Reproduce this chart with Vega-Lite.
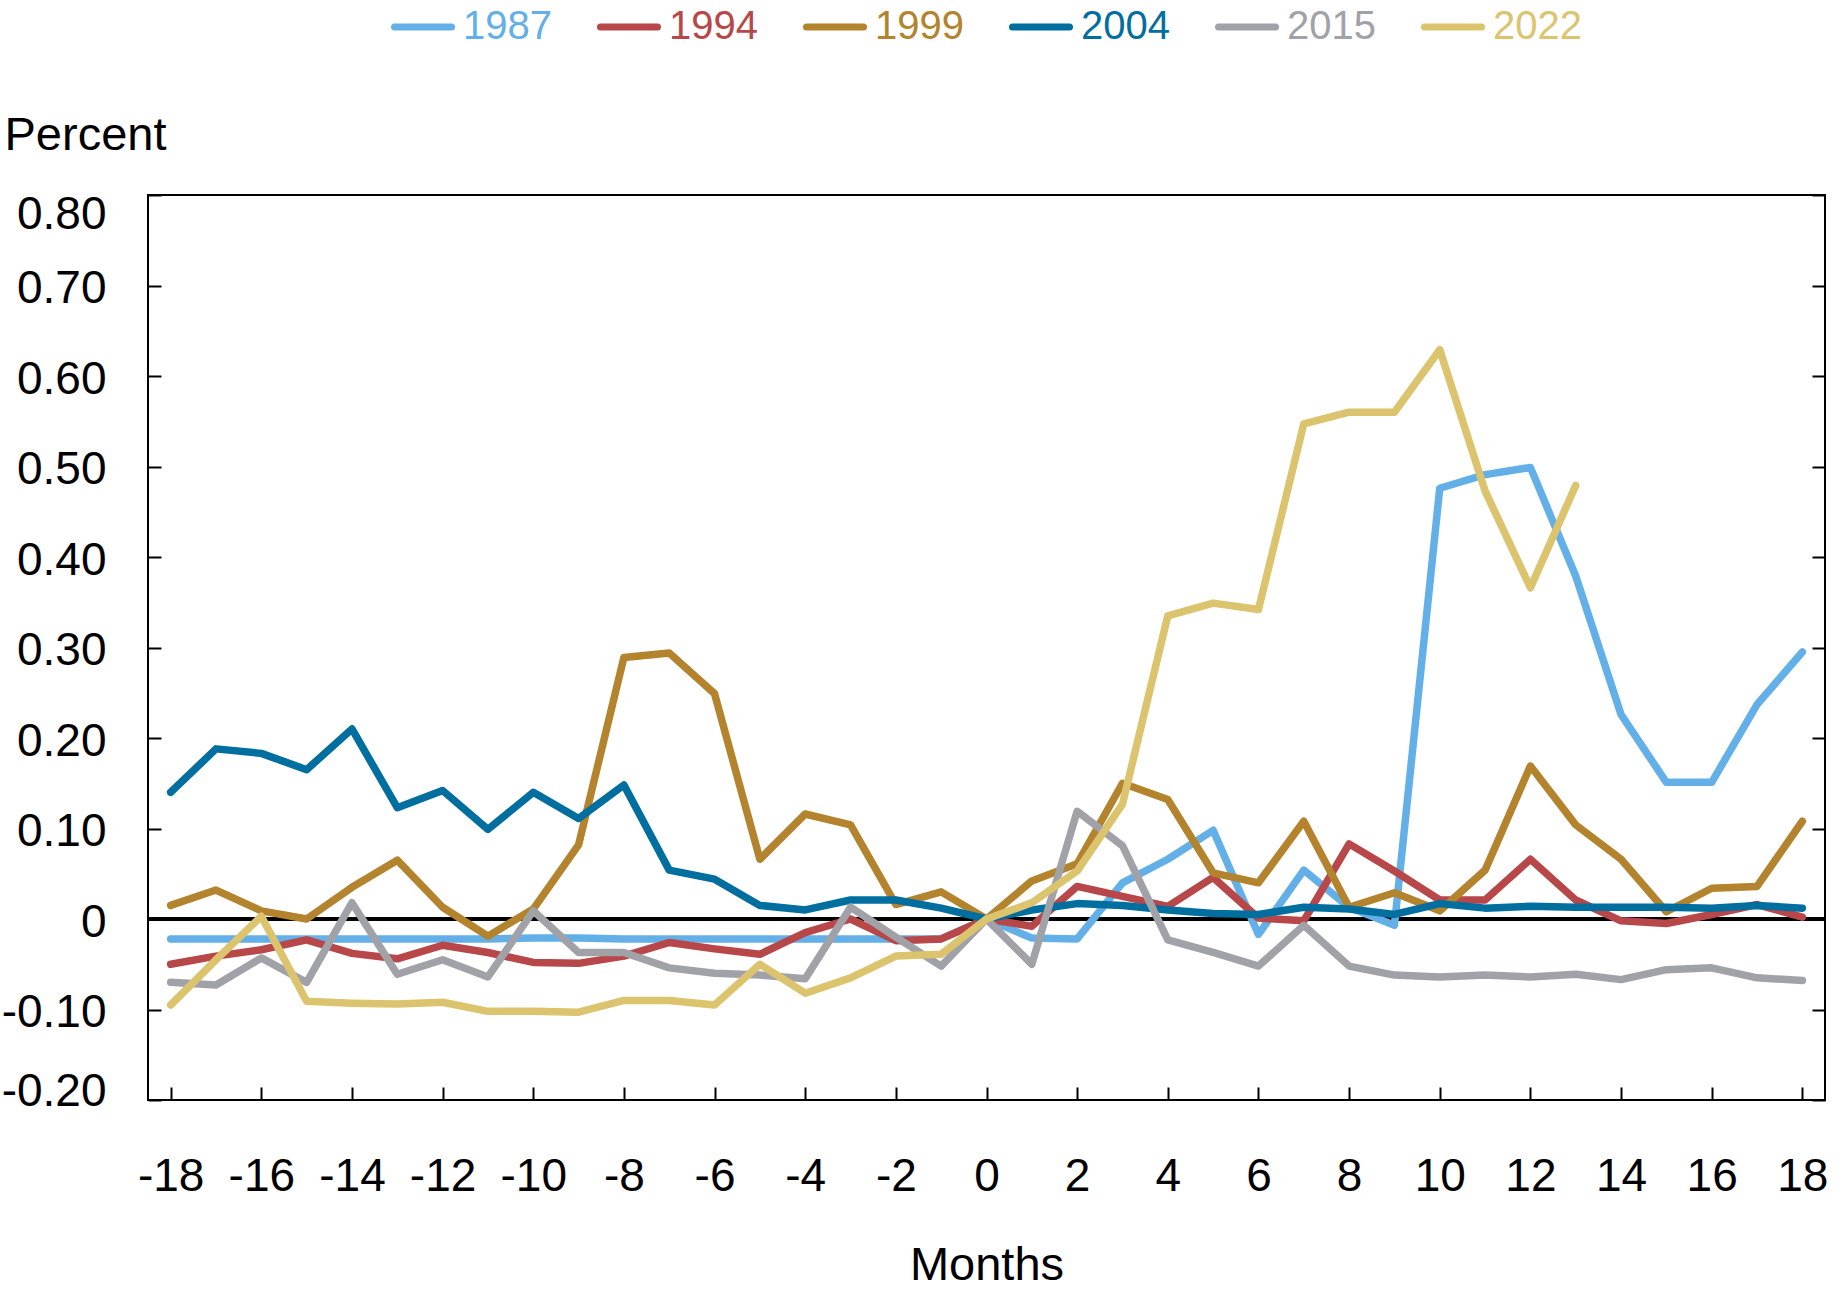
{
  "$schema": "https://vega.github.io/schema/vega-lite/v6.json",
  "width": 1677,
  "height": 905,
  "autosize": "none",
  "padding": {"left": 148, "top": 195, "right": 15, "bottom": 190},
  "background": "white",
  "config": {
    "font": "Liberation Sans",
    "view": {"stroke": "black", "strokeWidth": 2}
  },
  "data": {
    "values": [
      {"m": -18, "s": "1987", "v": -0.022}, {"m": -17, "s": "1987", "v": -0.022}, {"m": -16, "s": "1987", "v": -0.022}, {"m": -15, "s": "1987", "v": -0.022}, {"m": -14, "s": "1987", "v": -0.022}, {"m": -13, "s": "1987", "v": -0.022}, {"m": -12, "s": "1987", "v": -0.022}, {"m": -11, "s": "1987", "v": -0.022}, {"m": -10, "s": "1987", "v": -0.021}, {"m": -9, "s": "1987", "v": -0.021}, {"m": -8, "s": "1987", "v": -0.022}, {"m": -7, "s": "1987", "v": -0.022}, {"m": -6, "s": "1987", "v": -0.022}, {"m": -5, "s": "1987", "v": -0.022}, {"m": -4, "s": "1987", "v": -0.022}, {"m": -3, "s": "1987", "v": -0.022}, {"m": -2, "s": "1987", "v": -0.022}, {"m": -1, "s": "1987", "v": -0.022}, {"m": 0, "s": "1987", "v": 0.0}, {"m": 1, "s": "1987", "v": -0.021}, {"m": 2, "s": "1987", "v": -0.022}, {"m": 3, "s": "1987", "v": 0.040}, {"m": 4, "s": "1987", "v": 0.066}, {"m": 5, "s": "1987", "v": 0.098}, {"m": 6, "s": "1987", "v": -0.017}, {"m": 7, "s": "1987", "v": 0.054}, {"m": 8, "s": "1987", "v": 0.013}, {"m": 9, "s": "1987", "v": -0.007}, {"m": 10, "s": "1987", "v": 0.476}, {"m": 11, "s": "1987", "v": 0.491}, {"m": 12, "s": "1987", "v": 0.499}, {"m": 13, "s": "1987", "v": 0.379}, {"m": 14, "s": "1987", "v": 0.226}, {"m": 15, "s": "1987", "v": 0.151}, {"m": 16, "s": "1987", "v": 0.151}, {"m": 17, "s": "1987", "v": 0.237}, {"m": 18, "s": "1987", "v": 0.295},
      {"m": -18, "s": "1994", "v": -0.050}, {"m": -17, "s": "1994", "v": -0.041}, {"m": -16, "s": "1994", "v": -0.034}, {"m": -15, "s": "1994", "v": -0.023}, {"m": -14, "s": "1994", "v": -0.038}, {"m": -13, "s": "1994", "v": -0.044}, {"m": -12, "s": "1994", "v": -0.029}, {"m": -11, "s": "1994", "v": -0.037}, {"m": -10, "s": "1994", "v": -0.048}, {"m": -9, "s": "1994", "v": -0.049}, {"m": -8, "s": "1994", "v": -0.041}, {"m": -7, "s": "1994", "v": -0.026}, {"m": -6, "s": "1994", "v": -0.033}, {"m": -5, "s": "1994", "v": -0.039}, {"m": -4, "s": "1994", "v": -0.015}, {"m": -3, "s": "1994", "v": 0.000}, {"m": -2, "s": "1994", "v": -0.024}, {"m": -1, "s": "1994", "v": -0.022}, {"m": 0, "s": "1994", "v": 0.0}, {"m": 1, "s": "1994", "v": -0.008}, {"m": 2, "s": "1994", "v": 0.036}, {"m": 3, "s": "1994", "v": 0.025}, {"m": 4, "s": "1994", "v": 0.014}, {"m": 5, "s": "1994", "v": 0.046}, {"m": 6, "s": "1994", "v": 0.001}, {"m": 7, "s": "1994", "v": -0.002}, {"m": 8, "s": "1994", "v": 0.083}, {"m": 9, "s": "1994", "v": 0.053}, {"m": 10, "s": "1994", "v": 0.021}, {"m": 11, "s": "1994", "v": 0.021}, {"m": 12, "s": "1994", "v": 0.066}, {"m": 13, "s": "1994", "v": 0.021}, {"m": 14, "s": "1994", "v": -0.002}, {"m": 15, "s": "1994", "v": -0.005}, {"m": 16, "s": "1994", "v": 0.005}, {"m": 17, "s": "1994", "v": 0.016}, {"m": 18, "s": "1994", "v": 0.002},
      {"m": -18, "s": "1999", "v": 0.015}, {"m": -17, "s": "1999", "v": 0.032}, {"m": -16, "s": "1999", "v": 0.009}, {"m": -15, "s": "1999", "v": 0.000}, {"m": -14, "s": "1999", "v": 0.035}, {"m": -13, "s": "1999", "v": 0.065}, {"m": -12, "s": "1999", "v": 0.013}, {"m": -11, "s": "1999", "v": -0.019}, {"m": -10, "s": "1999", "v": 0.011}, {"m": -9, "s": "1999", "v": 0.082}, {"m": -8, "s": "1999", "v": 0.289}, {"m": -7, "s": "1999", "v": 0.294}, {"m": -6, "s": "1999", "v": 0.249}, {"m": -5, "s": "1999", "v": 0.066}, {"m": -4, "s": "1999", "v": 0.116}, {"m": -3, "s": "1999", "v": 0.104}, {"m": -2, "s": "1999", "v": 0.016}, {"m": -1, "s": "1999", "v": 0.030}, {"m": 0, "s": "1999", "v": 0.0}, {"m": 1, "s": "1999", "v": 0.042}, {"m": 2, "s": "1999", "v": 0.061}, {"m": 3, "s": "1999", "v": 0.150}, {"m": 4, "s": "1999", "v": 0.132}, {"m": 5, "s": "1999", "v": 0.051}, {"m": 6, "s": "1999", "v": 0.040}, {"m": 7, "s": "1999", "v": 0.108}, {"m": 8, "s": "1999", "v": 0.013}, {"m": 9, "s": "1999", "v": 0.029}, {"m": 10, "s": "1999", "v": 0.009}, {"m": 11, "s": "1999", "v": 0.054}, {"m": 12, "s": "1999", "v": 0.169}, {"m": 13, "s": "1999", "v": 0.104}, {"m": 14, "s": "1999", "v": 0.066}, {"m": 15, "s": "1999", "v": 0.008}, {"m": 16, "s": "1999", "v": 0.034}, {"m": 17, "s": "1999", "v": 0.036}, {"m": 18, "s": "1999", "v": 0.108},
      {"m": -18, "s": "2004", "v": 0.140}, {"m": -17, "s": "2004", "v": 0.188}, {"m": -16, "s": "2004", "v": 0.183}, {"m": -15, "s": "2004", "v": 0.165}, {"m": -14, "s": "2004", "v": 0.210}, {"m": -13, "s": "2004", "v": 0.123}, {"m": -12, "s": "2004", "v": 0.142}, {"m": -11, "s": "2004", "v": 0.099}, {"m": -10, "s": "2004", "v": 0.140}, {"m": -9, "s": "2004", "v": 0.111}, {"m": -8, "s": "2004", "v": 0.148}, {"m": -7, "s": "2004", "v": 0.054}, {"m": -6, "s": "2004", "v": 0.044}, {"m": -5, "s": "2004", "v": 0.015}, {"m": -4, "s": "2004", "v": 0.010}, {"m": -3, "s": "2004", "v": 0.021}, {"m": -2, "s": "2004", "v": 0.021}, {"m": -1, "s": "2004", "v": 0.012}, {"m": 0, "s": "2004", "v": 0.0}, {"m": 1, "s": "2004", "v": 0.010}, {"m": 2, "s": "2004", "v": 0.017}, {"m": 3, "s": "2004", "v": 0.015}, {"m": 4, "s": "2004", "v": 0.010}, {"m": 5, "s": "2004", "v": 0.006}, {"m": 6, "s": "2004", "v": 0.005}, {"m": 7, "s": "2004", "v": 0.013}, {"m": 8, "s": "2004", "v": 0.011}, {"m": 9, "s": "2004", "v": 0.005}, {"m": 10, "s": "2004", "v": 0.017}, {"m": 11, "s": "2004", "v": 0.012}, {"m": 12, "s": "2004", "v": 0.014}, {"m": 13, "s": "2004", "v": 0.013}, {"m": 14, "s": "2004", "v": 0.013}, {"m": 15, "s": "2004", "v": 0.013}, {"m": 16, "s": "2004", "v": 0.012}, {"m": 17, "s": "2004", "v": 0.015}, {"m": 18, "s": "2004", "v": 0.012},
      {"m": -18, "s": "2015", "v": -0.070}, {"m": -17, "s": "2015", "v": -0.073}, {"m": -16, "s": "2015", "v": -0.043}, {"m": -15, "s": "2015", "v": -0.070}, {"m": -14, "s": "2015", "v": 0.018}, {"m": -13, "s": "2015", "v": -0.061}, {"m": -12, "s": "2015", "v": -0.045}, {"m": -11, "s": "2015", "v": -0.064}, {"m": -10, "s": "2015", "v": 0.009}, {"m": -9, "s": "2015", "v": -0.037}, {"m": -8, "s": "2015", "v": -0.037}, {"m": -7, "s": "2015", "v": -0.054}, {"m": -6, "s": "2015", "v": -0.060}, {"m": -5, "s": "2015", "v": -0.062}, {"m": -4, "s": "2015", "v": -0.066}, {"m": -3, "s": "2015", "v": 0.013}, {"m": -2, "s": "2015", "v": -0.020}, {"m": -1, "s": "2015", "v": -0.052}, {"m": 0, "s": "2015", "v": 0.0}, {"m": 1, "s": "2015", "v": -0.050}, {"m": 2, "s": "2015", "v": 0.119}, {"m": 3, "s": "2015", "v": 0.081}, {"m": 4, "s": "2015", "v": -0.023}, {"m": 5, "s": "2015", "v": -0.037}, {"m": 6, "s": "2015", "v": -0.052}, {"m": 7, "s": "2015", "v": -0.007}, {"m": 8, "s": "2015", "v": -0.052}, {"m": 9, "s": "2015", "v": -0.062}, {"m": 10, "s": "2015", "v": -0.064}, {"m": 11, "s": "2015", "v": -0.062}, {"m": 12, "s": "2015", "v": -0.064}, {"m": 13, "s": "2015", "v": -0.061}, {"m": 14, "s": "2015", "v": -0.067}, {"m": 15, "s": "2015", "v": -0.056}, {"m": 16, "s": "2015", "v": -0.054}, {"m": 17, "s": "2015", "v": -0.065}, {"m": 18, "s": "2015", "v": -0.068},
      {"m": -18, "s": "2022", "v": -0.095}, {"m": -17, "s": "2022", "v": -0.045}, {"m": -16, "s": "2022", "v": 0.003}, {"m": -15, "s": "2022", "v": -0.091}, {"m": -14, "s": "2022", "v": -0.093}, {"m": -13, "s": "2022", "v": -0.094}, {"m": -12, "s": "2022", "v": -0.092}, {"m": -11, "s": "2022", "v": -0.102}, {"m": -10, "s": "2022", "v": -0.102}, {"m": -9, "s": "2022", "v": -0.103}, {"m": -8, "s": "2022", "v": -0.090}, {"m": -7, "s": "2022", "v": -0.090}, {"m": -6, "s": "2022", "v": -0.095}, {"m": -5, "s": "2022", "v": -0.050}, {"m": -4, "s": "2022", "v": -0.082}, {"m": -3, "s": "2022", "v": -0.065}, {"m": -2, "s": "2022", "v": -0.041}, {"m": -1, "s": "2022", "v": -0.039}, {"m": 0, "s": "2022", "v": 0.0}, {"m": 1, "s": "2022", "v": 0.018}, {"m": 2, "s": "2022", "v": 0.053}, {"m": 3, "s": "2022", "v": 0.127}, {"m": 4, "s": "2022", "v": 0.335}, {"m": 5, "s": "2022", "v": 0.349}, {"m": 6, "s": "2022", "v": 0.342}, {"m": 7, "s": "2022", "v": 0.547}, {"m": 8, "s": "2022", "v": 0.560}, {"m": 9, "s": "2022", "v": 0.560}, {"m": 10, "s": "2022", "v": 0.629}, {"m": 11, "s": "2022", "v": 0.473}, {"m": 12, "s": "2022", "v": 0.366}, {"m": 13, "s": "2022", "v": 0.479}
    ]
  },
  "layer": [
    {
      "mark": {"type": "rule", "color": "black", "strokeWidth": 4},
      "encoding": {
        "y": {
          "datum": 0,
          "type": "quantitative",
          "scale": {"domain": [-0.2, 0.8], "nice": false, "zero": false},
          "axis": {
            "orient": "right",
            "values": [-0.2, -0.1, 0, 0.1, 0.2, 0.3, 0.4, 0.5, 0.6, 0.7, 0.8],
            "labels": false,
            "domain": false,
            "grid": false,
            "tickSize": -13,
            "tickWidth": 2,
            "tickColor": "black",
            "title": null
          }
        }
      }
    },
    {
      "mark": {"type": "line", "strokeWidth": 7.5, "strokeCap": "round", "strokeJoin": "round"},
      "encoding": {
        "x": {
          "field": "m",
          "type": "quantitative",
          "scale": {"domain": [-18.5, 18.5], "nice": false, "zero": false},
          "axis": {
            "values": [-18, -16, -14, -12, -10, -8, -6, -4, -2, 0, 2, 4, 6, 8, 10, 12, 14, 16, 18],
            "labelExpr": "'' + datum.value",
            "domain": false,
            "grid": false,
            "tickSize": -13,
            "tickWidth": 2,
            "tickColor": "black",
            "labelFontSize": 46,
            "labelColor": "black",
            "labelPadding": 67,
            "labelFlush": false,
            "labelOverlap": false,
            "title": "Months",
            "titleFontSize": 47,
            "titleFontWeight": "normal",
            "titleColor": "black",
            "titleBaseline": "middle",
            "titleY": 165
          }
        },
        "y": {
          "field": "v",
          "type": "quantitative",
          "scale": {"domain": [-0.2, 0.8], "nice": false, "zero": false},
          "axis": {
            "orient": "left",
            "values": [-0.2, -0.1, 0, 0.1, 0.2, 0.3, 0.4, 0.5, 0.6, 0.7, 0.8],
            "labelExpr": "datum.value == 0 ? '0' : (datum.value < 0 ? '-' + format(-datum.value, '.2f') : format(datum.value, '.2f'))",
            "domain": false,
            "grid": false,
            "tickSize": -13,
            "tickWidth": 2,
            "tickColor": "black",
            "labelFontSize": 46,
            "labelColor": "black",
            "labelPadding": 55,
            "labelFlush": false,
            "labelOverlap": false,
            "labelBaseline": "middle",
            "labelOffset": {"condition": [{"test": "datum.value > 0.75", "value": 19}, {"test": "datum.value < -0.15", "value": -9}], "value": 3},
            "title": "Percent",
            "titleAngle": 0,
            "titleAlign": "left",
            "titleBaseline": "middle",
            "titleX": -144,
            "titleY": -60,
            "titleFontSize": 47,
            "titleFontWeight": "normal",
            "titleColor": "black"
          }
        },
        "color": {
          "field": "s",
          "type": "nominal",
          "scale": {
            "domain": ["1987", "1994", "1999", "2004", "2015", "2022"],
            "range": ["#63B0E8", "#B8474A", "#B3832D", "#006E9E", "#A0A2A8", "#DCC36E"]
          },
          "legend": {
            "orient": "none",
            "legendX": 243,
            "legendY": -200,
            "direction": "horizontal",
            "title": null,
            "padding": 0,
            "symbolType": "stroke",
            "symbolStrokeWidth": 7,
            "symbolSize": 3249,
            "labelFontSize": 40,
            "labelFont": "Liberation Sans",
            "labelOffset": 8,
            "columnPadding": 34,
            "encode": {
              "labels": {"update": {"fill": {"scale": "color", "field": "value"}}},
              "symbols": {"update": {"strokeCap": {"value": "round"}}}
            }
          }
        }
      }
    }
  ],
  "resolve": {"axis": {"y": "independent"}}
}
